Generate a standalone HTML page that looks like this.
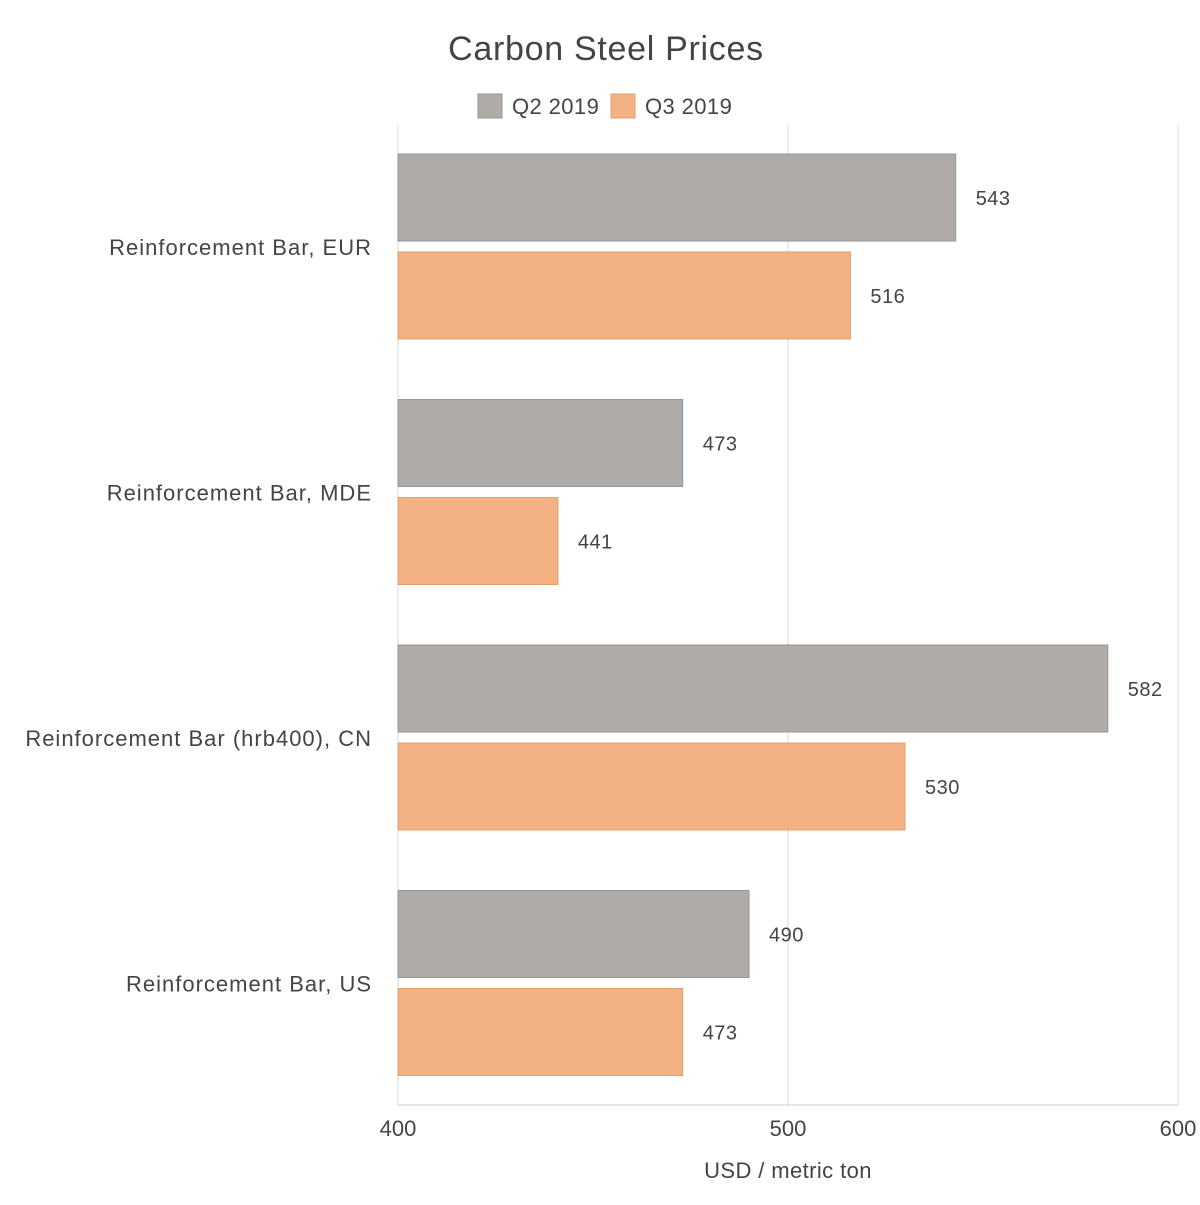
<!DOCTYPE html>
<html><head><meta charset="utf-8"><style>
body{margin:0;background:#fff;}
svg text{font-family:"Liberation Sans",sans-serif;fill:#444;}
</style></head><body>
<svg id="chart" width="1200" height="1200">
<text x="606" y="60" font-size="34" text-anchor="middle" letter-spacing="0.7">Carbon Steel Prices</text>
<g>
<rect x="478" y="94" width="24" height="24" fill="#afaba9" stroke="#9a9694"/>
<text x="512" y="114" font-size="22" letter-spacing="0.4">Q2 2019</text>
<rect x="611" y="94" width="24" height="24" fill="#f4b183" stroke="#e0a070"/>
<text x="645" y="114" font-size="22" letter-spacing="0.4">Q3 2019</text>
</g>
<g id="grid"></g>
<line x1="398" x2="1178" y1="1105" y2="1105" stroke="#d0d0d0" stroke-width="1"/>
<g id="bars"></g><g id="labels"></g>
<text x="788" y="1178" font-size="22" text-anchor="middle" letter-spacing="0.4">USD / metric ton</text>
</svg>
<script>
const categories=["Reinforcement Bar, EUR","Reinforcement Bar, MDE","Reinforcement Bar (hrb400), CN","Reinforcement Bar, US"];
const q2=[543,473,582,490];
const q3=[516,441,530,473];
const ticks=[400,500,600];
const NS="http://www.w3.org/2000/svg";
const x=v=>398+(v-400)*3.9;
const top0=125,band=245.5;
function mk(t,a,p){const e=document.createElementNS(NS,t);for(const k in a)e.setAttribute(k,a[k]);p.appendChild(e);return e;}
const g=document.getElementById('grid'),b=document.getElementById('bars'),l=document.getElementById('labels');
ticks.forEach(t=>{
 const ln=mk('line',{x1:x(t),x2:x(t),y1:top0,y2:1105,stroke:'#d9d9d9','stroke-width':1},g);
 
 
 const tx=mk('text',{x:x(t),y:1136,'font-size':22,'text-anchor':'middle'},l);tx.textContent=t;
 
 
});
categories.forEach((c,i)=>{
 const y0=top0+i*band;
 const ct=mk('text',{x:372,y:y0+130,'font-size':22,'text-anchor':'end','letter-spacing':1},l);ct.textContent=c;
 
 
 [[q2,'#afaba9','#9a9694',29,'q2'],[q3,'#f4b183','#e0a070',127,'q3']].forEach(([arr,f,s,off,n])=>{
  const r=mk('rect',{x:x(400),y:y0+off,width:x(arr[i])-x(400),height:87,fill:f,stroke:s,'stroke-width':1},b);
  
  
  const v=mk('text',{x:x(arr[i])+20,y:y0+off+51,'font-size':20,'letter-spacing':0.5},l);v.textContent=arr[i];
  
  
 });
});
</script>
</body></html>
